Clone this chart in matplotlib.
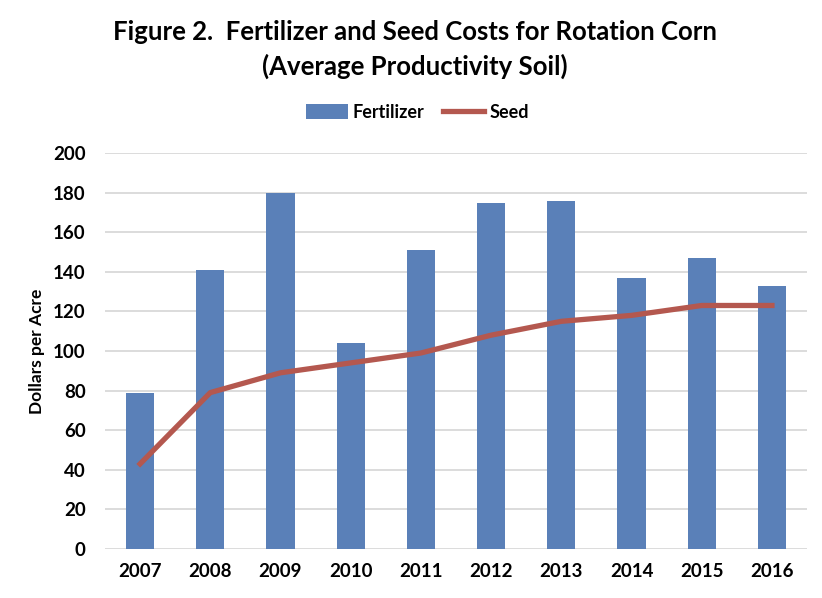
import numpy as np
import matplotlib
matplotlib.use('Agg')
import matplotlib.pyplot as plt

years = ['2007', '2008', '2009', '2010', '2011', '2012', '2013', '2014', '2015', '2016']
fertilizer = [79, 141, 180, 104, 151, 175, 176, 137, 147, 133]
seed = [43, 79, 89, 94, 99, 108, 115, 118, 123, 123]

plt.rcParams['font.family'] = ['Lato', 'DejaVu Sans']
plt.rcParams['font.weight'] = 'bold'

fig = plt.figure(figsize=(8.22, 5.98), dpi=100)
ax = fig.add_axes([0.1277, 0.0819, 0.8541, 0.6622])

x = np.arange(len(years))
bars = ax.bar(x, fertilizer, width=0.4, color='#5A80B8', label='Fertilizer', zorder=2)
line, = ax.plot(x, seed, color='#B4584F', linewidth=3.8, label='Seed', zorder=3)

ax.set_xlim(-0.5, len(years) - 0.5)
ax.set_ylim(0, 200)
ax.set_yticks(np.arange(0, 201, 20))
ax.set_xticks(x)
ax.set_xticklabels(years)
ax.tick_params(axis='both', length=0, labelsize=13.5, pad=10)
ax.tick_params(axis='y', pad=14)
for lab in ax.get_xticklabels() + ax.get_yticklabels():
    lab.set_fontweight('bold')
ax.grid(axis='y', color='#D9D9D9', linewidth=1.3, zorder=0)
ax.set_axisbelow(True)
for s in ax.spines.values():
    s.set_visible(False)
ax.set_ylabel('Dollars per Acre', fontsize=12.5, fontweight='bold', labelpad=6)

fig.text(0.505, 0.947, 'Figure 2.  Fertilizer and Seed Costs for Rotation Corn',
         ha='center', va='center', fontsize=18.5, fontweight='bold')
fig.text(0.505, 0.889, '(Average Productivity Soil)',
         ha='center', va='center', fontsize=18.5, fontweight='bold')

fig.legend([bars, line], ['Fertilizer', 'Seed'], loc='center',
           bbox_to_anchor=(0.508, 0.812), ncol=2, frameon=False,
           fontsize=13, handlelength=2.3, handleheight=0.9, columnspacing=1.0,
           handletextpad=0.3)

fig.savefig('out.png', dpi=100)
